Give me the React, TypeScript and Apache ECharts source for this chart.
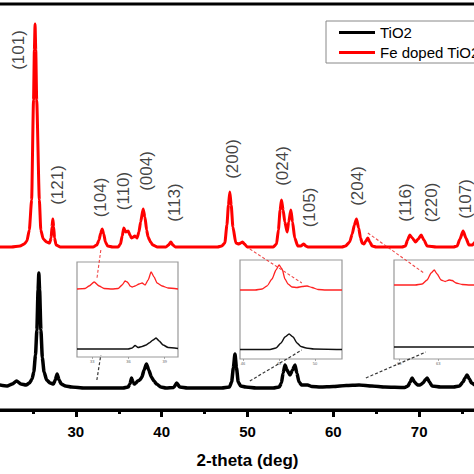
import React, { useEffect, useRef } from "react";
import * as echarts from "echarts";

const FONT = "Liberation Sans, Arial, Helvetica, sans-serif";

// Main pattern: [2-theta (deg), intensity (a.u.)]
const tio2Data: number[][] = [
  [21.1,25],[22.0,24],[22.6,26],[23.1,29],[23.6,26],[24.2,25],[24.6,27],[24.9,31],[25.1,38],[25.3,55],
  [25.46,80],[25.6,120],[25.69,137],[25.78,120],[25.93,80],[26.1,52],[26.3,38],[26.6,30],[27.0,27],[27.4,26],
  [27.6,30],[27.82,36],[28.05,30],[28.3,26],[28.8,24],[29.5,23],[31,22],[33,22],[35.5,22],[36.1,23],
  [36.3,26],[36.49,32],[36.65,28],[36.8,26],[37.0,27],[37.2,29],[37.46,30],[37.7,33],[37.95,40],[38.23,46],
  [38.5,40],[38.8,33],[39.1,29],[39.4,26],[39.9,23],[40.5,22],[41.4,22.5],[41.75,27],[42.1,23],[43,22],
  [45,22],[47,22],[47.9,23],[48.15,28],[48.35,42],[48.54,56],[48.72,42],[48.92,28],[49.2,24],[49.8,23],
  [51,22],[53,22],[53.7,23],[53.95,27],[54.15,37],[54.37,45],[54.6,40],[54.95,35],[55.25,40],[55.53,45],
  [55.75,37],[56.0,28],[56.3,25],[57.0,25],[57.5,23.5],[58.5,23],[60,23.5],[61.5,24.5],[63,25],[64.5,24],
  [66,23],[68.3,22.5],[68.7,24],[68.95,28],[69.18,32],[69.45,28],[69.8,25],[70.1,25],[70.45,27],[70.7,30],
  [70.93,32],[71.2,28],[71.5,24],[72.5,23],[74.0,23],[74.7,24],[75.1,28],[75.35,32],[75.58,35],[75.85,31],
  [76.1,27],[76.5,25]
];

const feTio2Data: number[][] = [
  [21.1,163],[22.5,163],[23.5,164],[24.0,166],[24.3,169],[24.58,180],[24.85,210],[25.07,310],[25.17,360],[25.25,386],
  [25.33,360],[25.44,310],[25.75,210],[25.92,180],[26.2,171],[26.6,168],[26.95,167],[27.12,172],[27.22,183],[27.32,191],
  [27.42,183],[27.52,172],[27.7,165],[28.2,163],[30,163],[32.0,163],[32.45,165],[32.7,170],[32.9,177],[33.07,181],
  [33.25,176],[33.45,168],[33.7,164],[34.3,163],[34.93,163],[35.2,166],[35.4,174],[35.59,182],[35.82,178],[36.1,179],
  [36.3,175],[36.48,172],[36.7,173],[36.87,174],[37.0,173],[37.14,172],[37.35,178],[37.55,188],[37.84,201],[38.05,193],
  [38.25,180],[38.42,173],[38.7,168],[38.97,165],[39.5,163],[40.5,163],[40.8,165],[41.07,168],[41.3,165],[41.6,163],
  [44,163],[46.5,163],[47.0,164],[47.36,167],[47.6,185],[47.78,205],[47.94,218],[48.1,205],[48.3,183],[48.64,167],
  [49.0,166],[49.2,167],[49.42,168],[49.65,166],[49.96,163],[52,163],[53.0,163],[53.38,166],[53.6,180],[53.8,200],
  [53.96,210],[54.15,200],[54.35,188],[54.62,178],[54.8,188],[55.05,200],[55.25,188],[55.5,172],[55.86,164],[56.2,164],
  [56.56,166],[56.8,164],[57.03,163],[59,163],[61.0,163],[61.42,164],[61.9,168],[62.2,176],[62.45,185],[62.7,191],
  [62.95,182],[63.17,172],[63.36,167],[63.56,166],[63.8,169],[64.02,172],[64.25,168],[64.52,164],[65,163],[68.0,163],
  [68.4,164],[68.65,170],[68.9,175],[69.2,172],[69.57,168],[69.9,171],[70.23,175],[70.55,170],[70.93,164],[72,163],
  [74.0,163],[74.42,164],[74.75,171],[75.12,179],[75.45,172],[75.8,165],[76.2,165],[76.5,168]
];

// Insets
const inset1Fe: number[][] = [
  [31.75,68],[32.42,68.5],[32.75,71],[33.17,75],[33.58,71],[33.99,68.5],[34.65,68],[35.15,68.5],[35.48,72],[35.73,76],
  [35.9,75],[35.98,74],[36.14,71],[36.31,70],[36.55,71],[36.88,73],[37.13,74],[37.38,72],[37.63,77],[37.88,85],
  [38.12,80],[38.37,74],[38.79,71],[39.28,69],[40.1,68]
];
const inset1Tio2: number[][] = [
  [31.75,8],[35.98,8],[36.31,9],[36.55,11.5],[36.8,9.5],[37.13,10.5],[37.46,12],[37.71,14],[38.04,17],[38.29,19],
  [38.54,16],[38.87,12],[39.28,9.5],[40.1,8.5]
];
const inset2Fe: number[][] = [
  [45.83,69],[46.67,69],[47.06,70],[47.33,73],[47.61,80],[47.83,89],[48.0,94],[48.17,90],[48.33,80],[48.5,75],
  [48.72,72],[49.0,71.5],[49.28,72.5],[49.56,73],[49.83,71.5],[50.17,69.5],[50.61,69],[51.5,69]
];
const inset2Tio2: number[][] = [
  [45.83,9.5],[47.5,9.5],[47.83,11],[48.11,16],[48.33,22],[48.56,25],[48.78,22],[49.0,16],[49.22,12.5],[49.5,11],
  [49.94,10],[51.5,9.5]
];
const inset3Fe: number[][] = [
  [59.6,74],[61.23,74],[61.77,75],[62.15,79],[62.46,86],[62.7,89],[62.92,85],[63.23,79],[63.54,77.5],[63.85,79],
  [64.08,78.5],[64.38,76],[64.85,74.5],[65.46,74],[67.46,74]
];
const inset3Tio2: number[][] = [[59.6,12],[63,12],[67.46,12]];

const inset1Ticks = [33, 36, 39];
const inset2Ticks = [46, 48, 50];
const inset3Ticks = [60, 63, 66];
const inset3Labels = [60, 63];

// Peak (hkl) labels
const peakLabels = ["(101)","(121)","(104)","(110)","(004)","(113)","(200)","(024)","(105)","(204)","(116)","(220)","(107)"];
const peakLabelX = [23.3, 27.84, 32.86, 35.6, 38.22, 41.49, 48.25, 54.02, 57.23, 62.83, 68.43, 71.46, 75.45];
const peakLabelY = [360, 225, 212.5, 219, 239, 207.5, 251, 244, 202.5, 224, 207.5, 207.5, 211];

// Dashed pointer arrows: [start, end] in main-axis coordinates
const redArrows: number[][][] = [
  [[32.91,160],[32.45,131]],
  [[50.27,161],[56.33,127]],
  [[64.02,177],[70.55,137]]
];
const blackArrows: number[][][] = [
  [[32.45,30],[32.91,55]],
  [[50.27,29],[56.33,60]],
  [[63.79,32],[70.78,58]]
];

const xTicks = { min: 20, max: 80, interval: 10 };

function arrowMarkLine(arrows: number[][][], color: string, width: number) {
  return {
    silent: true,
    symbol: ["none", "arrow"],
    symbolSize: [0, 9],
    label: { show: false },
    lineStyle: { color, width, type: [3, 2], opacity: 0.9 },
    emphasis: { disabled: true },
    data: arrows.map((a) => [{ coord: a[0] }, { coord: a[1] }]),
  };
}

function insetXAxis(gridIndex: number, min: number, max: number, ticks: number[], labels: number[]) {
  return {
    type: "value",
    gridIndex,
    min,
    max,
    axisLine: { show: false },
    axisTick: { show: true, length: 2, lineStyle: { color: "#777", width: 0.6 }, customValues: ticks },
    axisLabel: { show: true, fontSize: 4, color: "#666", margin: 2, fontFamily: FONT, customValues: labels },
    splitLine: { show: false },
  };
}

function insetYAxis(gridIndex: number, max: number) {
  return { type: "value", gridIndex, min: 0, max, show: false, splitLine: { show: false } };
}

export default function App() {
  const ref = useRef<HTMLDivElement>(null);
  useEffect(() => {
    if (!ref.current) return;
    const chart = echarts.init(ref.current, null, { renderer: "svg" });
    const insetLine = (name: string, data: number[][], idx: number, color: string, width: number) => ({
      name,
      type: "line",
      xAxisIndex: idx,
      yAxisIndex: idx,
      data,
      symbol: "none",
      smooth: 0.2,
      smoothMonotone: "x",
      lineStyle: { color, width },
      itemStyle: { color },
      silent: true,
    });
    chart.setOption({
      animation: false,
      backgroundColor: "#ffffff",
      textStyle: { fontFamily: FONT },
      grid: [
        { left: -10, right: -31, top: 4, bottom: 64, show: true, borderColor: "#000", borderWidth: 3, backgroundColor: "transparent", containLabel: false, outerBoundsMode: "none" },
        { left: 77, top: 262, width: 101, height: 95, show: true, borderColor: "#999", borderWidth: 1.2, containLabel: false, outerBoundsMode: "none" },
        { left: 240, top: 260, width: 102, height: 99, show: true, borderColor: "#999", borderWidth: 1.2, containLabel: false, outerBoundsMode: "none" },
        { left: 394, top: 260, width: 102, height: 99, show: true, borderColor: "#999", borderWidth: 1.2, containLabel: false, outerBoundsMode: "none" },
      ],
      legend: {
        orient: "vertical",
        left: 326,
        top: 21,
        padding: [4, 14, 3, 13],
        itemWidth: 36,
        itemHeight: 3,
        itemGap: 5,
        icon: "rect",
        borderColor: "#888",
        borderWidth: 1,
        borderRadius: 0,
        backgroundColor: "#fff",
        textStyle: { fontSize: 15, color: "#000", fontFamily: FONT, lineHeight: 14 },
        data: ["TiO2", "Fe doped TiO2"],
      },
      xAxis: [
        {
          type: "value",
          gridIndex: 0,
          min: xTicks.min,
          max: xTicks.max,
          interval: xTicks.interval,
          name: "2-theta (deg)",
          nameLocation: "middle",
          nameGap: 42,
          nameTextStyle: { fontSize: 17, fontWeight: "bold", color: "#000", fontFamily: FONT },
          axisLine: { lineStyle: { color: "#000", width: 3 } },
          axisTick: { show: true, inside: false, length: 7, lineStyle: { color: "#000", width: 3 } },
          minorTick: { show: true, splitNumber: 2, length: 4, lineStyle: { color: "#000", width: 3 } },
          axisLabel: { fontSize: 15, fontWeight: "bold", color: "#000", margin: 14, fontFamily: FONT, showMinLabel: false, showMaxLabel: false },
          splitLine: { show: false },
          minorSplitLine: { show: false },
        },
        insetXAxis(1, 31.75, 40.1, inset1Ticks, inset1Ticks),
        insetXAxis(2, 45.83, 51.5, inset2Ticks, inset2Ticks),
        insetXAxis(3, 59.6, 67.46, inset3Ticks, inset3Labels),
      ],
      yAxis: [
        { type: "value", gridIndex: 0, min: 0, max: 406, show: false, splitLine: { show: false } },
        insetYAxis(1, 95),
        insetYAxis(2, 99),
        insetYAxis(3, 99),
      ],
      series: [
        {
          name: "TiO2",
          type: "line",
          xAxisIndex: 0,
          yAxisIndex: 0,
          data: tio2Data,
          symbol: "none",
          smooth: 0.2,
          smoothMonotone: "x",
          lineStyle: { color: "#000", width: 3.5 },
          itemStyle: { color: "#000" },
          z: 3,
          markLine: arrowMarkLine(blackArrows, "#222", 1.2),
        },
        {
          name: "Fe doped TiO2",
          type: "line",
          xAxisIndex: 0,
          yAxisIndex: 0,
          data: feTio2Data,
          symbol: "none",
          smooth: 0.2,
          smoothMonotone: "x",
          lineStyle: { color: "#f00", width: 3 },
          itemStyle: { color: "#f00" },
          z: 3,
          markLine: arrowMarkLine(redArrows, "#e33", 1.1),
        },
        insetLine("TiO2 inset 1", inset1Tio2, 1, "#111", 1.5),
        insetLine("Fe doped TiO2 inset 1", inset1Fe, 1, "#f22", 1.3),
        insetLine("TiO2 inset 2", inset2Tio2, 2, "#111", 1.5),
        insetLine("Fe doped TiO2 inset 2", inset2Fe, 2, "#f22", 1.3),
        insetLine("TiO2 inset 3", inset3Tio2, 3, "#111", 1.5),
        insetLine("Fe doped TiO2 inset 3", inset3Fe, 3, "#f22", 1.3),
        {
          name: "peak labels",
          type: "scatter",
          xAxisIndex: 0,
          yAxisIndex: 0,
          symbol: "circle",
          symbolSize: 1,
          itemStyle: { color: "rgba(0,0,0,0)" },
          silent: true,
          z: 5,
          data: peakLabels.map((t, i) => ({ name: t, value: [peakLabelX[i], peakLabelY[i]] })),
          label: {
            show: true,
            formatter: "{b}",
            position: "inside",
            rotate: 90,
            fontSize: 17,
            color: "#111",
            fontFamily: FONT,
          },
        },
      ],
    });
    return () => chart.dispose();
  }, []);
  return (
    <div
      ref={ref}
      style={{ position: "absolute", left: 0, top: 0, width: 474, height: 474, background: "#fff" }}
    />
  );
}
